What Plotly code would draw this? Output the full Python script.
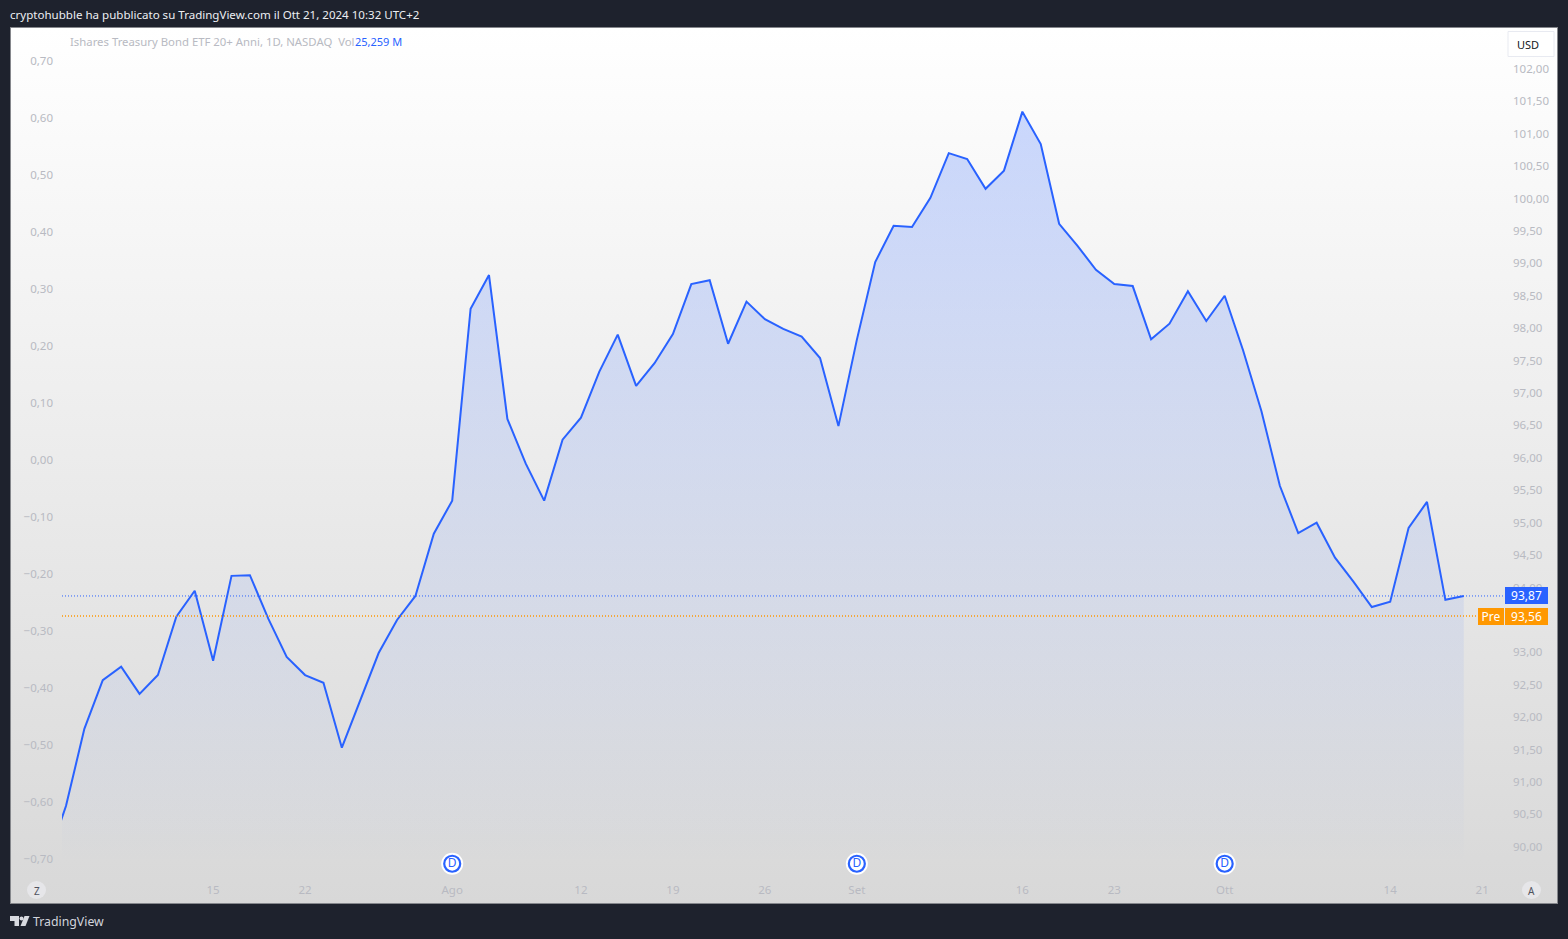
import base64
import pandas as pd
import plotly.graph_objects as go

W, H = 1568, 939
FONT = "Noto Sans"

trading_days = pd.bdate_range("2024-07-01", "2024-10-18").difference(
    pd.to_datetime(["2024-07-04", "2024-09-02"]))
closes = [
    89.80, 90.63, 91.82, 92.57, 92.78, 92.36, 92.65, 93.55, 93.95, 92.87,
    94.18, 94.19, 93.52, 92.93, 92.65, 92.53, 91.53, 92.25, 92.99, 93.50,
    93.87, 94.83, 95.34, 98.30, 98.82, 96.60, 95.91, 95.34, 96.28, 96.62,
    97.33, 97.90, 97.11, 97.46, 97.91, 98.68, 98.74, 97.76, 98.41, 98.14,
    97.99, 97.87, 97.54, 96.49, 97.82, 99.02, 99.58, 99.56, 100.01, 100.70,
    100.61, 100.15, 100.43, 101.34, 100.84, 99.61, 99.27, 98.90, 98.68, 98.65,
    97.83, 98.07, 98.57, 98.11, 98.50, 97.66, 96.72, 95.57, 94.84, 95.00,
    94.46, 94.09, 93.70, 93.78, 94.92, 95.32, 93.81, 93.87,
]
assert len(closes) == len(trading_days)

tick_dates = ["2024-07-15", "2024-07-22", "2024-08-01", "2024-08-12", "2024-08-19", "2024-08-26",
              "2024-09-03", "2024-09-16", "2024-09-23", "2024-10-01", "2024-10-14", "2024-10-21"]
tick_labels = ["15", "22", "Ago", "12", "19", "26", "Set", "16", "23", "Ott", "14", "21"]
price_ticks = [90, 90.5, 91, 91.5, 92, 92.5, 93, 94, 94.5, 95, 95.5, 96, 96.5, 97, 97.5, 98,
               98.5, 99, 99.5, 100, 100.5, 101, 101.5, 102]
dividend_dates = ["2024-08-01", "2024-09-03", "2024-10-01"]
dividend_level = [89.74, 89.74, 89.74]
last_price = 93.87
pre_price = 93.56
holidays = ["2024-07-04", "2024-09-02"]

BLUE = "#2962ff"
ORANGE = "#ff9800"
TICK = "#b8bac2"


def px(x):
    return x / W


def py(y):
    return 1 - y / H


svg = f'''<svg xmlns="http://www.w3.org/2000/svg" width="{W}" height="{H}" viewBox="0 0 {W} {H}">
<defs><linearGradient id="g" x1="0" y1="0" x2="0" y2="1">
<stop offset="0" stop-color="#ffffff"/><stop offset="1" stop-color="#d8d8d8"/></linearGradient></defs>
<rect x="0" y="0" width="{W}" height="{H}" fill="#1e222d"/>
<rect x="10.5" y="27.5" width="1547" height="876" fill="url(#g)" stroke="#85878c" stroke-width="1"/>
</svg>'''
bg = "data:image/svg+xml;base64," + base64.b64encode(svg.encode()).decode()

fig = go.Figure()
fig.add_trace(go.Scatter(
    x=trading_days, y=closes, mode="lines", yaxis="y",
    line=dict(color=BLUE, width=2),
    fill="tozeroy",
    fillgradient=dict(type="vertical", start=89.75, stop=101.5,
                      colorscale=[[0, "rgba(41,98,255,0.0)"], [0.03, "rgba(41,98,255,0.012)"],
                                  [1, "rgba(41,98,255,0.24)"]]),
    hoverinfo="skip", showlegend=False,
))
fig.add_trace(go.Scatter(x=[], y=[], yaxis="y2", showlegend=False))
fig.add_trace(go.Scatter(
    x=dividend_dates, y=dividend_level, mode="markers", yaxis="y",
    marker=dict(size=22, color="#ffffff"), hoverinfo="skip", showlegend=False))
fig.add_trace(go.Scatter(
    x=dividend_dates, y=dividend_level, mode="markers+text", yaxis="y",
    marker=dict(size=16, color="#ffffff", line=dict(color=BLUE, width=2.2)),
    text=["D", "D", "D"], textposition="middle center",
    textfont=dict(family=FONT, size=12, color=BLUE), hoverinfo="skip", showlegend=False))

shapes = [
    dict(type="line", xref="paper", yref="y", x0=px(62), x1=px(1505), y0=last_price, y1=last_price,
         line=dict(color=BLUE, width=1, dash="1px,2px")),
    dict(type="line", xref="paper", yref="y", x0=px(62), x1=px(1477), y0=pre_price, y1=pre_price,
         line=dict(color=ORANGE, width=1.4, dash="1px,2px")),
    dict(type="circle", xref="paper", yref="paper", x0=px(27), x1=px(46), y0=py(899), y1=py(881),
         fillcolor="#e6e6e9", line=dict(width=0)),
    dict(type="circle", xref="paper", yref="paper", x0=px(1522), x1=px(1541), y0=py(899), y1=py(881),
         fillcolor="#e6e6e9", line=dict(width=0)),
    dict(type="rect", xref="paper", yref="paper", x0=px(1508), x1=px(1554), y0=py(56.5), y1=py(31.5),
         fillcolor="#ffffff", line=dict(color="#e8eaf1", width=1)),
    # logo
    dict(type="rect", xref="paper", yref="paper", x0=px(10), x1=px(19), y0=py(921), y1=py(916),
         fillcolor="#d8dae0", line=dict(width=0)),
    dict(type="rect", xref="paper", yref="paper", x0=px(14.5), x1=px(19), y0=py(926), y1=py(916),
         fillcolor="#d8dae0", line=dict(width=0)),
    dict(type="circle", xref="paper", yref="paper", x0=px(19.5), x1=px(23.5), y0=py(920.5), y1=py(916.5),
         fillcolor="#d8dae0", line=dict(width=0)),
    dict(type="path", xref="paper", yref="paper",
         path=f"M {px(24.5)} {py(916)} L {px(29.5)} {py(916)} L {px(25.5)} {py(926)} L {px(20.5)} {py(926)} Z",
         fillcolor="#d8dae0", line=dict(width=0)),
]


def label(x, y, text, size=12, color=TICK, anchor="left", **kw):
    return dict(xref="paper", yref="paper", x=px(x), y=py(y), text=text, showarrow=False,
                xanchor=anchor, yanchor="middle", font=dict(family=FONT, size=size, color=color),
                borderpad=0, borderwidth=0, **kw)


annotations = [
    label(10, 14.5, "cryptohubble ha pubblicato su TradingView.com il Ott 21, 2024 10:32 UTC+2", 11.55, "#eceef2"),
    label(70, 41.5, "Ishares Treasury Bond ETF 20+ Anni, 1D, NASDAQ  Vol", 11.35, "#b8bac2"),
    label(355, 41.5, "25,259 M", 11, BLUE),
    label(33, 921, "TradingView", 12.3, "#d1d4dc"),
    label(36.5, 890.5, "Z", 10, "#50535e", "center"),
    label(1531.5, 890.5, "A", 10, "#50535e", "center"),
    label(1527.5, 44, "USD", 11, "#131722", "center"),
    dict(xref="paper", yref="y", x=px(1505), y=last_price, xanchor="left", yanchor="middle",
         text=f"{last_price:.2f}".replace(".", ","), showarrow=False, bgcolor=BLUE, width=43, height=17,
         font=dict(family=FONT, size=12, color="#ffffff"), borderpad=0, borderwidth=0),
    dict(xref="paper", yref="y", x=px(1505), y=pre_price, xanchor="left", yanchor="middle",
         text=f"{pre_price:.2f}".replace(".", ","), showarrow=False, bgcolor=ORANGE, width=43, height=17,
         font=dict(family=FONT, size=12, color="#ffffff"), borderpad=0, borderwidth=0),
    dict(xref="paper", yref="y", x=px(1504), y=pre_price, xanchor="right", yanchor="middle",
         text="Pre", showarrow=False, bgcolor=ORANGE, width=26, height=17,
         font=dict(family=FONT, size=12, color="#ffffff"), borderpad=0, borderwidth=0),
]

fig.update_layout(
    width=W, height=H, margin=dict(l=0, r=0, t=0, b=0, pad=0),
    autosize=False,
    paper_bgcolor="#1e222d", plot_bgcolor="rgba(0,0,0,0)",
    separators=", ",
    font=dict(family=FONT, size=12, color=TICK),
    showlegend=False,
    images=[dict(source=bg, xref="paper", yref="paper", x=0, y=1, sizex=1, sizey=1,
                 sizing="stretch", layer="below", xanchor="left", yanchor="top")],
    shapes=shapes, annotations=annotations,
    xaxis=dict(domain=[px(62), px(1504)], type="date",
               range=["2024-07-01 18:49", "2024-10-22 04:30"],
               rangebreaks=[dict(bounds=["sat", "mon"]), dict(values=holidays, dvalue=86400000)],
               tickmode="array", tickvals=tick_dates, ticktext=tick_labels, showgrid=False,
               zeroline=False, showline=False, ticks="", ticklabelstandoff=3,
               tickfont=dict(family=FONT, size=11.5, color=TICK)),
    yaxis=dict(domain=[py(878), py(28)], side="right", range=[89.52, 102.63],
               tickmode="array", tickvals=price_ticks,
               tickformat=".2f", showgrid=False, zeroline=False, showline=False, ticks="",
               ticklabelstandoff=8, tickfont=dict(family=FONT, size=11.5, color=TICK)),
    yaxis2=dict(domain=[py(878), py(28)], overlaying="y", side="left", anchor="x", range=[-0.734, 0.757],
                tick0=0, dtick=0.1, tickformat=".2f", showgrid=False, zeroline=False, showline=False,
                ticks="", ticklabelstandoff=8, tickfont=dict(family=FONT, size=11.5, color=TICK)),
)

fig.write_html("out.html", config={"displayModeBar": False},
               post_script="document.body.style.margin='0';document.body.style.overflow='hidden';")
